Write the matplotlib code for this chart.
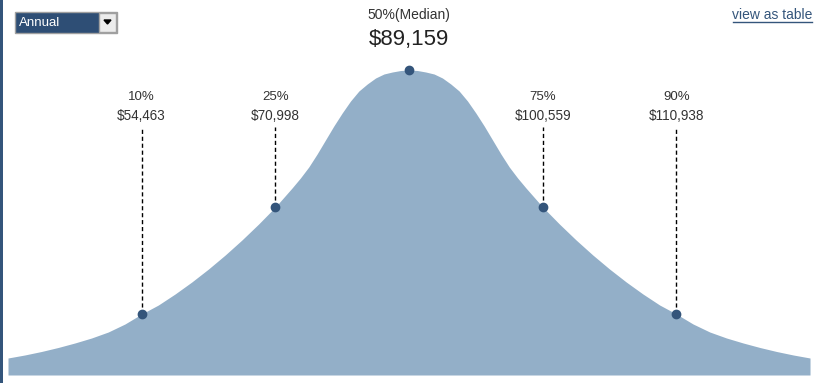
import numpy as np
import matplotlib.pyplot as plt
from matplotlib.patches import Rectangle, Polygon

plt.rcParams['font.family'] = ['Liberation Sans', 'DejaVu Sans']

# curve (position in percentile slots, height in px above baseline)
curve_pos = [0, 0.125, 0.25, 0.375, 0.5, 0.625, 0.75, 0.875, 1,
             1.125, 1.25, 1.375, 1.5, 1.625, 1.75, 1.875, 2,
             2.0625, 2.125, 2.1875, 2.25, 2.3125, 2.375, 2.4375, 2.5,
             2.5625, 2.625, 2.6875, 2.75, 2.8125, 2.875, 2.9375, 3,
             3.0625, 3.125, 3.1875, 3.25, 3.3125, 3.375, 3.4375, 3.5,
             3.5625, 3.625, 3.6875, 3.75, 3.8125, 3.875, 3.9375, 4,
             4.125, 4.25, 4.375, 4.5, 4.625, 4.75, 4.875, 5,
             5.125, 5.25, 5.375, 5.5, 5.625, 5.75, 5.875, 6]
curve_h = [17, 20, 23.5, 27.5, 32, 37, 43, 51, 61,
           70, 81, 93, 106, 120, 135, 151, 168,
           177.5, 187, 197, 208, 221, 235, 249, 262,
           274, 284, 291, 297, 301, 303, 304.5, 305,
           304.5, 303, 301, 297, 291, 284, 274, 262,
           249, 235, 221, 208, 197, 187, 177.5, 168,
           151, 135, 120, 106, 93, 81, 70, 61,
           51, 43, 37, 32, 27.5, 23.5, 20, 17]

pct_labels = ['10%', '25%', '50%(Median)', '75%', '90%']
pct_values = ['$54,463', '$70,998', '$89,159', '$100,559', '$110,938']
pct_pos = [1, 2, 3, 4, 5]

W, H = 822, 383
fig = plt.figure(figsize=(W / 100, H / 100), dpi=100)
ax = fig.add_axes([0, 0, 1, 1])
step = 133.67
ax.set_xlim(-8 / step, (W - 8) / step)
ax.set_ylim(-8, 375)
ax.axis('off')

fill_c = '#93afc8'
dot_c = '#34557b'
txt_c = '#333333'

ax.fill_between(curve_pos, 0, curve_h, color=fill_c, lw=0)

for i, (p, lab, val) in enumerate(zip(pct_pos, pct_labels, pct_values)):
    h = curve_h[curve_pos.index(p)]
    ax.plot(p, h, 'o', color=dot_c, ms=6, zorder=4)
    if i == 2:
        ax.text(p, 375 - 15, lab, ha='center', va='center', fontsize=10, color=txt_c)
        ax.text(p, 375 - 40, val, ha='center', va='center', fontsize=16, color='#222222')
    else:
        ax.text(p, 375 - 97, lab, ha='center', va='center', fontsize=9.5, color=txt_c)
        ax.text(p, 375 - 116, val, ha='center', va='center', fontsize=9.75, color=txt_c)
        ax.plot([p, p], [h, 375 - 127], color='black', lw=1, ls=(0, (3, 2)), zorder=3)


def fx(px):
    return px / W


def fy(py):
    return 1 - py / H


# left border
fig.patches.append(Rectangle((0, 0), fx(3), 1, transform=fig.transFigure,
                             color='#34557b', lw=0))

# dropdown
fig.patches.append(Rectangle((fx(15), fy(33)), fx(102), 21 / H, transform=fig.transFigure,
                             facecolor='#2e4e75', edgecolor='#a0a0a0', lw=1))
fig.patches.append(Rectangle((fx(99), fy(32)), fx(17), 19 / H, transform=fig.transFigure,
                             facecolor='#ececec', edgecolor='#a0a0a0', lw=1))
fig.patches.append(Polygon([(fx(104), fy(20)), (fx(111), fy(20)), (fx(107.5), fy(24))],
                           closed=True, transform=fig.transFigure, color='black'))
fig.text(fx(19), fy(22.5), 'Annual', color='white', fontsize=9.5, va='center', ha='left')

# view as table link
fig.text(fx(812), fy(15), 'view as table', color='#34557b', fontsize=10,
         ha='right', va='center')
fig.lines.append(plt.Line2D([fx(733), fx(812)], [fy(22), fy(22)], transform=fig.transFigure,
                            color='#34557b', lw=1))

fig.savefig('out.png', dpi=100)
